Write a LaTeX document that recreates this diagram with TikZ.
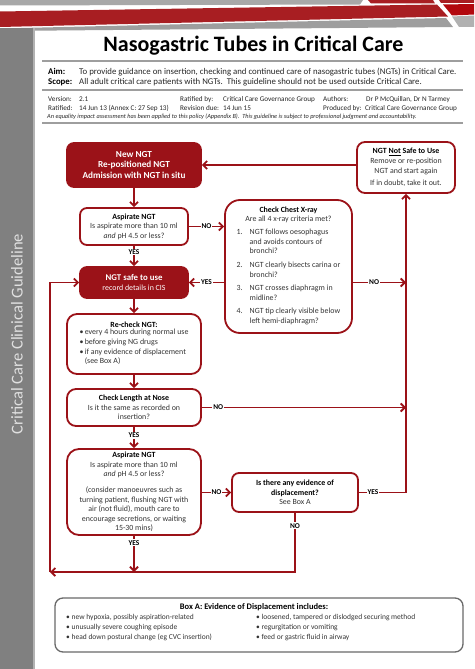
\documentclass[tikz,border=0pt]{standalone}
\usepackage{fontspec}
\setmainfont{Carlito}
\usetikzlibrary{arrows.meta}

\definecolor{ngtred}{RGB}{155,18,24}
\definecolor{bannerred}{RGB}{168,30,34}
\definecolor{darkbanner}{RGB}{178,8,14}
\definecolor{sidegrey}{RGB}{128,128,128}
\definecolor{rulegrey}{RGB}{158,158,158}
\definecolor{boxgrey}{RGB}{105,105,105}
\newcommand{\fsz}[2]{\fontsize{#1}{#2}\selectfont}

\begin{document}
\begin{tikzpicture}[x=1pt,y=-1pt,
    box/.style={draw=ngtred, line width=1.8pt, rounded corners=7pt, fill=white, align=center,
      inner sep=2pt, font=\fsz{7.9}{9.6}, text=black!80},
    redbox/.style={box, fill=ngtred, text=white},
    wire/.style={draw=ngtred, line width=1.8pt},
    link/.style={wire, -{Straight Barb[length=4pt,width=8pt]}},
    lab/.style={fill=white, inner sep=1pt, font=\bfseries\fsz{7.4}{8}, text=black},
    hdr/.style={anchor=base west, inner sep=0pt, text=black!85}]
      \useasboundingbox (0,0) rectangle (474,669);
      % banner and side bar
      \fill[rulegrey!90] (0,0) -- (363,0) -- (360,4.5) -- (0,5.5) -- cycle;
      \fill[bannerred] (368,0) -- (433,0) -- (435,3.5) -- (371,3.5) -- cycle;
      \fill[bannerred] (439,0) -- (474,0) -- (474,3) -- (441,3) -- cycle;
      \fill[bannerred] (0,11.5) -- (437,4.5) -- (448,16.5) -- (0,27) -- cycle;
      \fill[darkbanner] (443,4.5) -- (474,4) -- (474,14.5) -- (452,15.5) -- cycle;
      \fill[rulegrey] (0,28.5) -- (446,18) -- (453,27) -- (0,31) -- cycle;
      \fill[rulegrey!80] (452,16.5) -- (474,15.5) -- (474,27) -- (459,27) -- cycle;
      \fill[sidegrey] (0,28) rectangle (33,669);
      \fill[black!30] (33,28) rectangle (34.5,669);
      \node[rotate=90, text=white!88!black, font=\fsz{16.6}{18}] (side) at (17,334) {Critical Care Clinical Guideline};

      % heading
      \node[font=\bfseries\fsz{22}{24}, text=black] (title) at (253.5,46) {Nasogastric Tubes in Critical Care};
      \draw[rulegrey, line width=2.5pt] (42,61) -- (463,61) (42,90) -- (463,90) (42,123) -- (463,123);
      \node[hdr, font=\bfseries\fsz{8.8}{9}, text=black] (aim) at (48,74.5) {Aim:};
      \node[hdr, font=\bfseries\fsz{8.8}{9}, text=black] (scope) at (48,84.5) {Scope:};
      \node[hdr, font=\fsz{8.8}{9}] (aimtxt) at (79,74.5) {To provide guidance on insertion, checking and continued care of nasogastric tubes (NGTs) in Critical Care.};
      \node[hdr, font=\fsz{8.8}{9}] (scopetxt) at (79,84.5) {All adult critical care patients with NGTs.\ \ This guideline should not be used outside Critical Care.};
      \node[hdr, font=\fsz{7.2}{8}] (ver) at (48,101) {Version:};
      \node[hdr, font=\fsz{7.2}{8}] (vernum) at (79,101) {2.1};
      \node[hdr, font=\fsz{7.2}{8}] (rat) at (48,110) {Ratified:};
      \node[hdr, font=\fsz{7.2}{8}] (ratdate) at (79,110) {14 Jun 13 (Annex C: 27 Sep 13)};
      \node[hdr, font=\fsz{7.2}{8}] (ratby) at (180,101) {Ratified by:};
      \node[hdr, font=\fsz{7.2}{8}] (ratbytxt) at (223,101) {Critical Care Governance Group};
      \node[hdr, font=\fsz{7.2}{8}] (rev) at (180,110) {Revision due:};
      \node[hdr, font=\fsz{7.2}{8}] (revdate) at (223,110) {14 Jun 15};
      \node[hdr, font=\fsz{7.2}{8}] (auth) at (323,101) {Authors:};
      \node[hdr, font=\fsz{7.2}{8}] (authtxt) at (366,101) {Dr P McQuillan, Dr N Tarmey};
      \node[hdr, font=\fsz{7.2}{8}] (prod) at (323,110) {Produced by:};
      \node[hdr, font=\fsz{7.2}{8}] (prodtxt) at ([xshift=3pt]prod.base east) {Critical Care Governance Group};
      \node[hdr, font=\itshape\fsz{6.3}{7}] (eqia) at (47,118) {An equality impact assessment has been applied to this policy (Appendix B).\ \ This guideline is subject to professional judgment and accountability.};

      % flow chart
      \node[redbox, minimum width=134pt, minimum height=44pt, font=\bfseries\fsz{9.2}{10.5}] (new) at (134,165)
        {New NGT\\Re-positioned NGT\\Admission with NGT in situ};
      \node[box, minimum width=108pt, minimum height=37pt] (asp) at (134,226.5)
        {\textbf{\color{black}Aspirate NGT}\\Is aspirate more than 10 ml\\\textit{and} pH 4.5 or less?};
      \node[redbox, minimum width=108pt, minimum height=31pt] (safe) at (134,282.5)
        {\textbf{\fsz{8.8}{10}NGT safe to use}\\record details in CIS};
      \node[box, minimum width=134pt, minimum height=60pt, rounded corners=10pt] (recheck) at (134,344)
        {\textbf{\color{black}Re-check NGT:}\\
         \begin{tabular}{@{}l@{\,}l@{}}
           \textbullet & every 4 hours during normal use\\
           \textbullet & before giving NG drugs\\
           \textbullet & if any evidence of displacement\\
           & (see Box A)
         \end{tabular}};
      \node[box, minimum width=134pt, minimum height=37pt, rounded corners=9pt] (length) at (134,407.5)
        {\textbf{\color{black}Check Length at Nose}\\Is it the same as recorded on\\insertion?};
      \node[box, minimum width=134pt, minimum height=86pt, rounded corners=12pt] (asp2) at (134,492)
        {\textbf{\color{black}Aspirate NGT}\\Is aspirate more than 10 ml\\\textit{and} pH 4.5 or less?\\[6pt]
         (consider manoeuvres such as\\turning patient, flushing NGT with\\air (not fluid), mouth care to\\
         encourage secretions, or waiting\\15-30 mins)};
      \node[box, minimum width=127pt, minimum height=133pt, rounded corners=15pt] (cxr) at (288.5,266.5)
        {\textbf{\color{black}Check Chest X-ray}\\Are all 4 x-ray criteria met?\\[4pt]
         \begin{tabular}{@{}l@{\hspace{7pt}}l@{}}
           1. & NGT follows oesophagus\\ & and avoids contours of\\ & bronchi?\\[4pt]
           2. & NGT clearly bisects carina or\\ & bronchi?\\[4pt]
           3. & NGT crosses diaphragm in\\ & midline?\\[4pt]
           4. & NGT tip clearly visible below\\ & left hemi-diaphragm?
         \end{tabular}};
      \node[box, minimum width=98pt, minimum height=51pt, rounded corners=8pt] (notsafe) at (406,167.5)
        {\textbf{\color{black}NGT \underline{Not} Safe to Use}\\Remove or re-position\\NGT and start again\\[3pt]If in doubt, take it out.};
      \node[box, minimum width=126pt, minimum height=39pt] (disp) at (295,492.5)
        {\textbf{\color{black}Is there any evidence of}\\\textbf{\color{black}displacement?}\\See Box A};
      \coordinate (loopl) at (50,572);

      \draw[link] (new) -- (asp);
      \draw[link] (asp) -- node[lab, pos=.3]{YES} (safe);
      \draw[link] (asp.east) -- node[lab]{NO} (asp.east -| cxr.west);
      \draw[link] (cxr.west |- safe.east) -- node[lab]{YES} (safe.east);
      \draw[link] (cxr.east |- safe.east) -- node[lab, pos=.4]{NO} (safe.east -| notsafe.south);
      \draw[link] (notsafe.west |- new.east) -- (new.east);
      \draw[link] (safe) -- (recheck);
      \draw[link] (recheck) -- (length);
      \draw[link] (length.east) -- node[lab, pos=.08]{NO} (length.east -| notsafe.south);
      \draw[link] (length) -- node[lab, pos=.4]{YES} (asp2);
      \draw[link] (asp2.east |- disp.west) -- node[lab]{NO} (disp.west);
      \draw[link] (disp.east) -- node[lab, pos=.3]{YES} (disp.east -| notsafe.south) -- (notsafe.south);
      \draw[link] (asp2.south) -- node[lab, pos=.19]{YES} (asp2.south |- loopl);
      \draw[link] (disp.south) -- node[lab, pos=.22]{NO} (disp.south |- loopl) -- (loopl);
      \draw[link] (loopl) |- (safe.west);

      % box A
      \draw[boxgrey, line width=1.3pt, rounded corners=8pt] (55,598) rectangle (463,652);
      \node[font=\bfseries\fsz{8.5}{9}, text=black] (boxatitle) at (254,607) {Box A: Evidence of Displacement includes:};
      \node[anchor=west, align=left, inner sep=0pt, font=\fsz{7.5}{10}, text=black!80] (boxaleft) at (66,628)
        {\textbullet\ new hypoxia, possibly aspiration-related\\\textbullet\ unusually severe coughing episode\\\textbullet\ head down postural change (eg CVC insertion)};
      \node[anchor=west, align=left, inner sep=0pt, font=\fsz{7.5}{10}, text=black!80] (boxaright) at (256,628)
        {\textbullet\ loosened, tampered or dislodged securing method\\\textbullet\ regurgitation or vomiting\\\textbullet\ feed or gastric fluid in airway};
\end{tikzpicture}
\end{document}
